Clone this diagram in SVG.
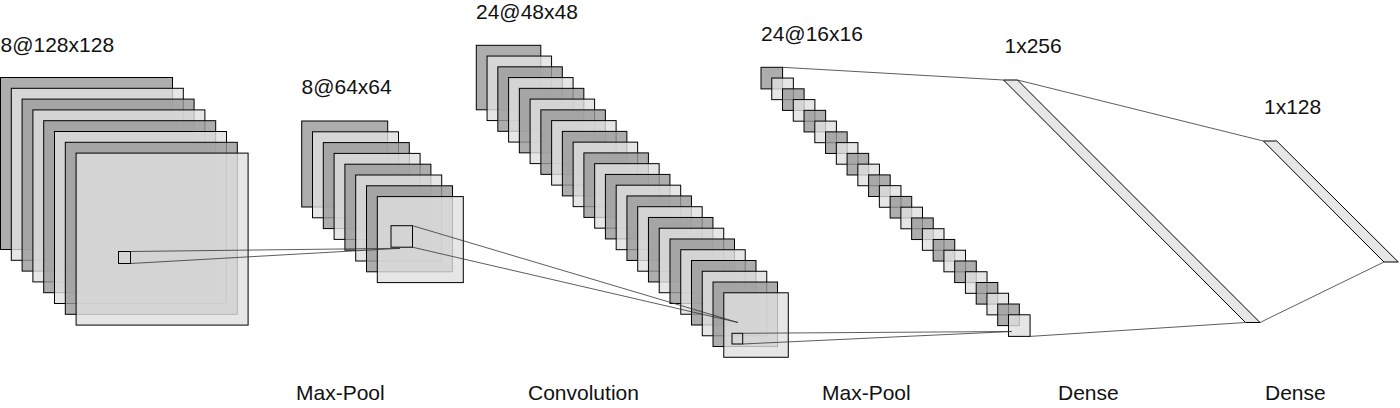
<svg xmlns="http://www.w3.org/2000/svg" width="1400" height="408" viewBox="0 0 1400 408">
<style>
.d{fill:#999999;fill-opacity:0.8;stroke:#000;stroke-width:1}
.l{fill:#e0e0e0;fill-opacity:0.8;stroke:#000;stroke-width:1}
.f{fill:none;stroke:#000;stroke-width:1}
.c{fill:none;stroke:#333;stroke-width:0.8}
text{font-family:"Liberation Sans",Arial,Helvetica,sans-serif;font-size:21px;fill:#111}
</style>
<rect width="1400" height="408" fill="#fff"/>
<g id="layer1">
<rect class="d" x="0.5" y="77.5" width="172" height="172"/>
<rect class="l" x="11.3" y="88.3" width="172" height="172"/>
<rect class="d" x="22.1" y="99.1" width="172" height="172"/>
<rect class="l" x="32.9" y="109.9" width="172" height="172"/>
<rect class="d" x="43.7" y="120.7" width="172" height="172"/>
<rect class="l" x="54.5" y="131.5" width="172" height="172"/>
<rect class="d" x="65.3" y="142.3" width="172" height="172"/>
<rect class="l" x="76.1" y="153.1" width="172" height="172"/>
<rect class="f" x="118.5" y="251.5" width="12" height="12"/>
<text x="0.5" y="51.5">8@128x128</text>
</g>
<g id="layer2">
<rect class="d" x="301.7" y="121" width="86" height="86"/>
<rect class="l" x="312.5" y="131.8" width="86" height="86"/>
<rect class="d" x="323.3" y="142.6" width="86" height="86"/>
<rect class="l" x="334.1" y="153.4" width="86" height="86"/>
<rect class="d" x="344.9" y="164.2" width="86" height="86"/>
<rect class="l" x="355.7" y="175" width="86" height="86"/>
<rect class="d" x="366.5" y="185.8" width="86" height="86"/>
<rect class="l" x="377.3" y="196.6" width="86" height="86"/>
<rect class="f" x="391" y="225.7" width="21.5" height="21.5"/>
<text x="301.5" y="94">8@64x64</text>
</g>
<g id="layer3">
<rect class="d" x="476.3" y="45.3" width="64.5" height="64.5"/>
<rect class="l" x="487.06" y="56.06" width="64.5" height="64.5"/>
<rect class="d" x="497.82" y="66.82" width="64.5" height="64.5"/>
<rect class="l" x="508.58" y="77.58" width="64.5" height="64.5"/>
<rect class="d" x="519.34" y="88.34" width="64.5" height="64.5"/>
<rect class="l" x="530.1" y="99.1" width="64.5" height="64.5"/>
<rect class="d" x="540.86" y="109.86" width="64.5" height="64.5"/>
<rect class="l" x="551.62" y="120.62" width="64.5" height="64.5"/>
<rect class="d" x="562.38" y="131.38" width="64.5" height="64.5"/>
<rect class="l" x="573.14" y="142.14" width="64.5" height="64.5"/>
<rect class="d" x="583.9" y="152.9" width="64.5" height="64.5"/>
<rect class="l" x="594.66" y="163.66" width="64.5" height="64.5"/>
<rect class="d" x="605.42" y="174.42" width="64.5" height="64.5"/>
<rect class="l" x="616.18" y="185.18" width="64.5" height="64.5"/>
<rect class="d" x="626.94" y="195.94" width="64.5" height="64.5"/>
<rect class="l" x="637.7" y="206.7" width="64.5" height="64.5"/>
<rect class="d" x="648.46" y="217.46" width="64.5" height="64.5"/>
<rect class="l" x="659.22" y="228.22" width="64.5" height="64.5"/>
<rect class="d" x="669.98" y="238.98" width="64.5" height="64.5"/>
<rect class="l" x="680.74" y="249.74" width="64.5" height="64.5"/>
<rect class="d" x="691.5" y="260.5" width="64.5" height="64.5"/>
<rect class="l" x="702.26" y="271.26" width="64.5" height="64.5"/>
<rect class="d" x="713.02" y="282.02" width="64.5" height="64.5"/>
<rect class="l" x="723.78" y="292.78" width="64.5" height="64.5"/>
<rect class="f" x="732" y="333.3" width="10.7" height="10.7"/>
<text x="476" y="19">24@48x48</text>
</g>
<g id="layer4">
<rect class="d" x="761" y="67.3" width="21.6" height="21.6"/>
<rect class="l" x="771.76" y="78.06" width="21.6" height="21.6"/>
<rect class="d" x="782.52" y="88.82" width="21.6" height="21.6"/>
<rect class="l" x="793.28" y="99.58" width="21.6" height="21.6"/>
<rect class="d" x="804.04" y="110.34" width="21.6" height="21.6"/>
<rect class="l" x="814.8" y="121.1" width="21.6" height="21.6"/>
<rect class="d" x="825.56" y="131.86" width="21.6" height="21.6"/>
<rect class="l" x="836.32" y="142.62" width="21.6" height="21.6"/>
<rect class="d" x="847.08" y="153.38" width="21.6" height="21.6"/>
<rect class="l" x="857.84" y="164.14" width="21.6" height="21.6"/>
<rect class="d" x="868.6" y="174.9" width="21.6" height="21.6"/>
<rect class="l" x="879.36" y="185.66" width="21.6" height="21.6"/>
<rect class="d" x="890.12" y="196.42" width="21.6" height="21.6"/>
<rect class="l" x="900.88" y="207.18" width="21.6" height="21.6"/>
<rect class="d" x="911.64" y="217.94" width="21.6" height="21.6"/>
<rect class="l" x="922.4" y="228.7" width="21.6" height="21.6"/>
<rect class="d" x="933.16" y="239.46" width="21.6" height="21.6"/>
<rect class="l" x="943.92" y="250.22" width="21.6" height="21.6"/>
<rect class="d" x="954.68" y="260.98" width="21.6" height="21.6"/>
<rect class="l" x="965.44" y="271.74" width="21.6" height="21.6"/>
<rect class="d" x="976.2" y="282.5" width="21.6" height="21.6"/>
<rect class="l" x="986.96" y="293.26" width="21.6" height="21.6"/>
<rect class="d" x="997.72" y="304.02" width="21.6" height="21.6"/>
<rect class="l" x="1008.48" y="314.78" width="21.6" height="21.6"/>
<text x="761" y="40.5">24@16x16</text>
</g>
<g id="dense1">
<polygon class="l" points="1003.5,80 1017.5,80 1260,322.5 1245.5,322.5"/>
<text x="1004.5" y="53">1x256</text>
</g>
<g id="dense2">
<polygon class="l" points="1263.3,141 1276.7,141 1398.3,262 1384,262"/>
<text x="1264" y="114">1x128</text>
</g>
<g id="connectors">
<line class="c" x1="130.5" y1="251.5" x2="400" y2="248.3"/>
<line class="c" x1="130.5" y1="263.5" x2="400" y2="248.3"/>
<line class="c" x1="412.5" y1="225.7" x2="738" y2="322.5"/>
<line class="c" x1="412.5" y1="247.2" x2="738" y2="322.5"/>
<line class="c" x1="742.7" y1="333.3" x2="1011.5" y2="331.5"/>
<line class="c" x1="742.7" y1="344" x2="1011.5" y2="331.5"/>
<line class="c" x1="782.6" y1="67.3" x2="1003.5" y2="80"/>
<line class="c" x1="1030.1" y1="336.4" x2="1245.5" y2="322.5"/>
<line class="c" x1="1017.5" y1="80" x2="1263.3" y2="141"/>
<line class="c" x1="1260" y1="322.5" x2="1384" y2="262"/>
</g>
<g id="labels">
<text x="296" y="400">Max-Pool</text>
<text x="528" y="400">Convolution</text>
<text x="822" y="400">Max-Pool</text>
<text x="1058" y="400">Dense</text>
<text x="1265" y="400">Dense</text>
</g>
</svg>
